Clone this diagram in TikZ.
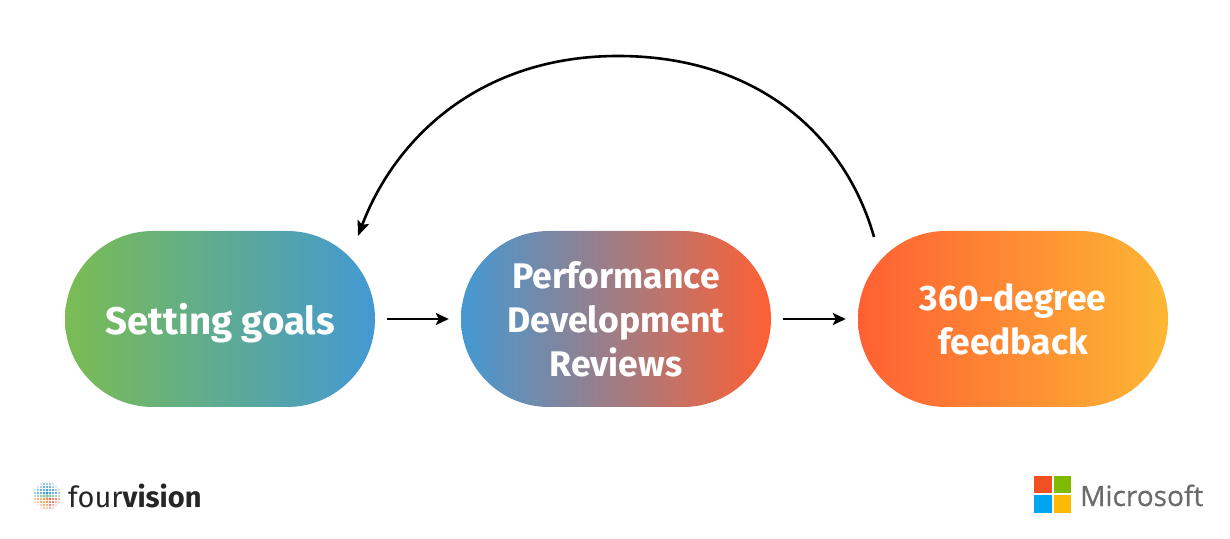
\documentclass[tikz,border=0pt]{standalone}
\usepackage{fontspec}
\setmainfont{Fira Sans}
\newfontfamily\logofont[FakeBold=0.5]{Open Sans}
\usetikzlibrary{arrows.meta}
\definecolor{cgreen}{HTML}{7ABC52}
\definecolor{cblue}{HTML}{4399D3}
\definecolor{cred}{HTML}{FF5F33}
\definecolor{cyel}{HTML}{FDB733}
\definecolor{msr}{HTML}{F25022}
\definecolor{msg}{HTML}{7FBA00}
\definecolor{msb}{HTML}{00A4EF}
\definecolor{msy}{HTML}{FFB900}
\definecolor{dblue}{HTML}{3C9BD6}
\definecolor{dorange}{HTML}{F39C4B}
\definecolor{dred}{HTML}{EF5B4C}
\definecolor{dgreen}{HTML}{8CC7A1}
\tikzset{
  pill/.style={rounded corners=87.9pt,minimum width=310pt,minimum height=176pt,inner sep=0pt,
    text=white,align=center,draw=none},
  conn/.style={line width=2.5pt,-{Stealth[length=13pt,width=12pt,inset=3pt]},black},
  arcconn/.style={line width=2.6pt,-{Stealth[length=15pt,width=12pt,inset=3pt]},black},
}
\begin{document}
\begin{tikzpicture}[x=1pt,y=1pt]
\useasboundingbox (0,0) rectangle (1230,538);
\fill[white] (0,0) rectangle (1230,538);
\node[pill,left color=cgreen,right color=cblue,font=\fontsize{38.5}{44}\selectfont\bfseries,text height=30pt,text depth=10pt] (a) at (220,219) {\raisebox{-5.5pt}{Setting goals}};
\node[pill,left color=cblue,right color=cred,font=\fontsize{35.6}{44}\selectfont\bfseries] (b) at (616,219) {\raisebox{-1.5pt}{Performance}\\\raisebox{-1.5pt}{Development}\\\raisebox{-1.5pt}{Reviews}};
\node[pill,left color=cred,right color=cyel,font=\fontsize{35.5}{44}\selectfont\bfseries] (c) at (1013,219) {\raisebox{-1.5pt}{360-degree}\\\raisebox{-1.5pt}{feedback}};
\draw[conn] ([xshift=12pt]a.east) -- ([xshift=-12pt]b.west);
\draw[conn] ([xshift=12pt]b.east) -- ([xshift=-12pt]c.west);
\coordinate (arcstart) at (874,301);
\coordinate (arcend) at (358,302);
\draw[arcconn] (arcstart) .. controls (846,400) and (760,482) .. (618,482)
  .. controls (480,482) and (395,400) .. (arcend);
% fourvision logo: dot burst
\foreach \i in {-4,...,4}{
  \foreach \j in {-4,...,4}{
    \pgfmathsetmacro{\dd}{sqrt(\i*\i+\j*\j)}
    \pgfmathsetmacro{\rr}{max(0.6,1.8-0.25*\dd)}
    \pgfmathparse{\dd<=4.6?1:0}
    \ifnum\pgfmathresult=1
      \ifnum\j>0
        \fill[dblue] ({47+3*\i},{42+3*\j}) circle (\rr pt);
      \else
        \ifnum\j=0
          \fill[dgreen] ({47+3*\i},{42+3*\j}) circle (\rr pt);
        \else
          \ifnum\i>0
            \fill[dred] ({47+3*\i},{42+3*\j}) circle (\rr pt);
          \else
            \fill[dorange] ({47+3*\i},{42+3*\j}) circle (\rr pt);
          \fi
        \fi
      \fi
    \fi
  }
}
\node[anchor=base west,inner sep=0pt,font=\fontsize{29}{32}\selectfont,text=black!85] (fv) at (68,31) {four\textbf{vision}};
% Microsoft logo
\fill[msr] (1034,45) rectangle (1052,62);
\fill[msg] (1054,45) rectangle (1071,62);
\fill[msb] (1034,25) rectangle (1052,43);
\fill[msy] (1054,25) rectangle (1071,43);
\node[anchor=base west,inner sep=0pt,font=\logofont\fontsize{28}{32}\selectfont,text=black!58] (ms) at (1080,32) {Microsoft};
\end{tikzpicture}
\end{document}
